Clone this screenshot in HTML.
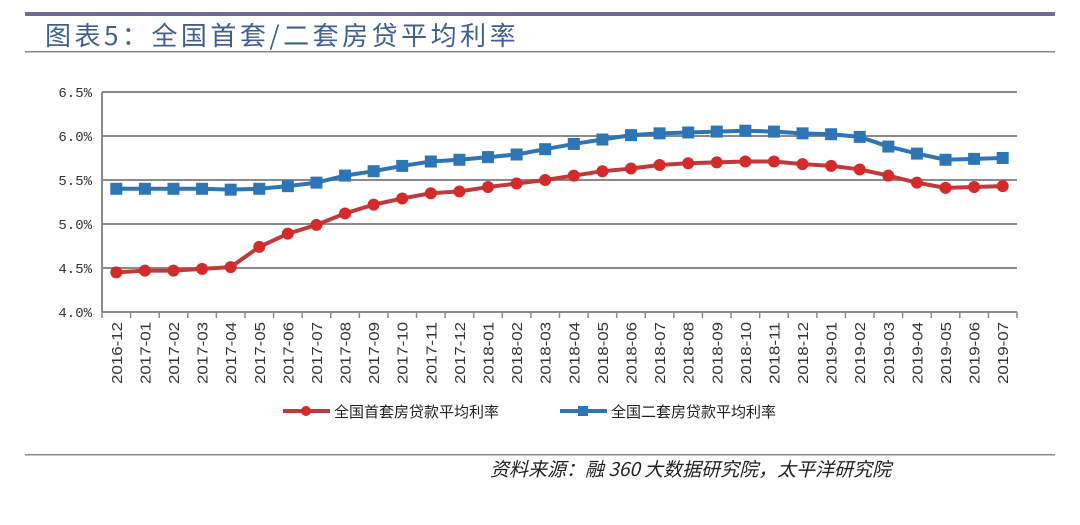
<!DOCTYPE html>
<html><head><meta charset="utf-8"><style>
body{margin:0;background:#fff;width:1080px;height:520px;overflow:hidden;font-family:"Liberation Sans","Noto Sans CJK SC",sans-serif}
</style></head><body>
<svg width="1080" height="520" xmlns="http://www.w3.org/2000/svg" font-family="Liberation Sans, Noto Sans CJK SC, sans-serif">
<rect x="25" y="12" width="1030" height="4" fill="#6e6a98"/>
<text x="45" y="45" font-size="26" letter-spacing="3.5" fill="#3f5f8f" font-family="Noto Sans CJK SC, sans-serif">图表5：全国首套/二套房贷平均利率</text>
<rect x="25" y="51" width="1030" height="1.5" fill="#888"/>
<g stroke="#8a8a8a" stroke-width="2">
<line x1="102" y1="92" x2="1017" y2="92"/><line x1="102" y1="136" x2="1017" y2="136"/><line x1="102" y1="180" x2="1017" y2="180"/><line x1="102" y1="224" x2="1017" y2="224"/><line x1="102" y1="268" x2="1017" y2="268"/><line x1="102" y1="312" x2="1017" y2="312"/>
<line x1="102" y1="92" x2="102" y2="312"/>
</g>
<g font-size="14" fill="#333" text-anchor="end" font-family="Liberation Mono, monospace">
<text x="92" y="97">6.5%</text><text x="92" y="141">6.0%</text><text x="92" y="185">5.5%</text><text x="92" y="229">5.0%</text><text x="92" y="273">4.5%</text><text x="92" y="317">4.0%</text>
</g>
<g id="ch"></g>
<g>
<line x1="283" y1="411" x2="330" y2="411" stroke="#c0393b" stroke-width="4"/><circle cx="306" cy="411" r="5" fill="#d42a2a"/>
<text x="334" y="417" font-size="15" fill="#222">全国首套房贷款平均利率</text>
<line x1="560" y1="411" x2="607" y2="411" stroke="#2e75b6" stroke-width="4"/><rect x="578" y="406" width="10" height="10" fill="#2e75b6"/>
<text x="611" y="417" font-size="15" fill="#222">全国二套房贷款平均利率</text>
</g>
<rect x="25" y="454" width="1030" height="1.5" fill="#888"/>
<text x="490" y="476" font-size="19" fill="#222" font-style="italic" font-family="Noto Sans CJK SC, sans-serif">资料来源：融 360 大数据研究院，太平洋研究院</text>
</svg>
<script>
var b=[5.40,5.40,5.40,5.40,5.39,5.40,5.43,5.47,5.55,5.60,5.66,5.71,5.73,5.76,5.79,5.85,5.91,5.96,6.01,6.03,6.04,6.05,6.06,6.05,6.03,6.02,5.99,5.88,5.80,5.73,5.74,5.75];
var r=[4.45,4.47,4.47,4.49,4.51,4.74,4.89,4.99,5.12,5.22,5.29,5.35,5.37,5.42,5.46,5.50,5.55,5.60,5.63,5.67,5.69,5.70,5.71,5.71,5.68,5.66,5.62,5.55,5.47,5.41,5.42,5.43];
var bw=(1017-102)/32,s='';
function X(i){return 102+bw*(i+0.5)}function Y(v){return 180-(v-5.5)*88}
var lbl=[];for(var i=0;i<32;i++){var y=2016+Math.floor((11+i)/12),m=(11+i)%12+1;lbl.push(y+'-'+(m<10?'0':'')+m);}
for(var i=0;i<=32;i++){var x=102+bw*i;s+='<line x1="'+x+'" y1="312" x2="'+x+'" y2="318" stroke="#8a8a8a" stroke-width="1.5"/>';}
for(var i=0;i<32;i++){s+='<text transform="translate('+(X(i)+5.5)+',322) rotate(-90)" text-anchor="end" font-size="15" fill="#333" textLength="62" lengthAdjust="spacingAndGlyphs">'+lbl[i]+'</text>';}
function pl(a,c){return '<polyline fill="none" stroke="'+c+'" stroke-width="4" stroke-linejoin="round" points="'+a.map(function(v,i){return X(i)+','+Y(v)}).join(' ')+'"/>'}
s+=pl(r,'#c0393b');r.forEach(function(v,i){s+='<circle cx="'+X(i)+'" cy="'+Y(v)+'" r="6" fill="#d42a2a"/>'});
s+=pl(b,'#2e75b6');b.forEach(function(v,i){s+='<rect x="'+(X(i)-6)+'" y="'+(Y(v)-6)+'" width="12" height="12" fill="#2e75b6"/>'});
document.getElementById('ch').innerHTML=s;
</script>
</body></html>
